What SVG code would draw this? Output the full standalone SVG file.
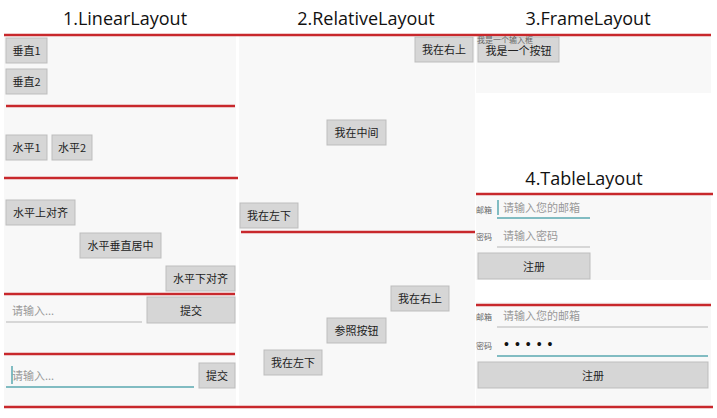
<svg xmlns="http://www.w3.org/2000/svg" width="717" height="418" viewBox="0 0 717 418">
<style>
.t{font-family:"Open Sans","Noto Sans",sans-serif;font-size:18px;fill:#111;text-anchor:middle}
.b{fill:#d6d6d6;stroke:#bdbdbd;stroke-width:1}
.bt{font-family:"Noto Sans CJK SC",sans-serif;font-size:11px;fill:#222;text-anchor:middle}
.h{font-family:"Noto Sans CJK SC",sans-serif;font-size:11px;fill:#999}
.s{font-family:"Noto Sans CJK SC",sans-serif;font-size:8px;fill:#666}
.r{stroke:#c8282c;stroke-width:2.5}
.e{stroke:#ccc;stroke-width:1.5}
.f{stroke:#5aa8b0;stroke-width:1.5}
</style>
<rect width="717" height="418" fill="#fff"/>
<rect x="4" y="35" width="232" height="372" fill="#f8f8f8"/>
<rect x="239" y="35" width="236" height="372" fill="#f8f8f8"/>
<rect x="476" y="35" width="235" height="58" fill="#f8f8f8"/>
<rect x="476" y="193" width="235" height="214" fill="#f8f8f8"/>
<rect x="476" y="280" width="235" height="22" fill="#fff"/>
<g id="titles">
<text class="t" x="125" y="25">1.LinearLayout</text>
<text class="t" x="366" y="25">2.RelativeLayout</text>
<text class="t" x="588" y="25">3.FrameLayout</text>
<text class="t" x="584" y="185">4.TableLayout</text>
</g>
<g id="dividers">
<line class="r" x1="4" y1="35" x2="711" y2="35"/>
<line class="r" x1="6" y1="106" x2="235" y2="106"/>
<line class="r" x1="4" y1="178" x2="238" y2="178"/>
<line class="r" x1="4" y1="294" x2="235" y2="294"/>
<line class="r" x1="4" y1="354" x2="235" y2="354"/>
<line class="r" x1="4" y1="407" x2="713" y2="407"/>
<line class="r" x1="241" y1="232" x2="475" y2="232"/>
<line class="r" x1="476" y1="194" x2="713" y2="194"/>
<line class="r" x1="476" y1="305" x2="711" y2="305"/>
</g>
<g id="linear">
<rect class="b" x="6" y="38" width="41" height="25"/><text class="bt" x="26.5" y="55">垂直1</text>
<rect class="b" x="6" y="69" width="41" height="25"/><text class="bt" x="26.5" y="86">垂直2</text>
<rect class="b" x="6" y="135" width="41" height="25"/><text class="bt" x="26.5" y="152">水平1</text>
<rect class="b" x="52" y="135" width="40" height="25"/><text class="bt" x="72" y="152">水平2</text>
<rect class="b" x="6" y="200" width="69" height="25"/><text class="bt" x="40.5" y="217">水平上对齐</text>
<rect class="b" x="80" y="233" width="81" height="25"/><text class="bt" x="120.5" y="250">水平垂直居中</text>
<rect class="b" x="166" y="266" width="69" height="25"/><text class="bt" x="200.5" y="283">水平下对齐</text>
<text class="h" x="12" y="315">请输入...</text><line class="e" x1="6" y1="322" x2="142" y2="322"/>
<rect class="b" x="147" y="297" width="88" height="26"/><text class="bt" x="191" y="315">提交</text>
<text class="h" x="12" y="380">请输入...</text><line class="f" x1="6" y1="387" x2="194" y2="387"/><line class="f" x1="12" y1="366" x2="12" y2="384"/>
<rect class="b" x="199" y="363" width="36" height="25"/><text class="bt" x="217" y="380">提交</text>
</g>
<g id="relative">
<rect class="b" x="415" y="37" width="58" height="25"/><text class="bt" x="444" y="54">我在右上</text>
<rect class="b" x="327" y="120" width="59" height="25"/><text class="bt" x="356.5" y="137">我在中间</text>
<rect class="b" x="240" y="203" width="58" height="25"/><text class="bt" x="269" y="220">我在左下</text>
<rect class="b" x="391" y="286" width="58" height="25"/><text class="bt" x="420" y="303">我在右上</text>
<rect class="b" x="327" y="318" width="59" height="25"/><text class="bt" x="356.5" y="335">参照按钮</text>
<rect class="b" x="264" y="350" width="58" height="25"/><text class="bt" x="293" y="367">我在左下</text>
</g>
<g id="frame">
<rect class="b" x="478" y="37" width="81" height="25"/><text class="bt" x="518.5" y="55">我是一个按钮</text>
<text class="s" x="477" y="43">我是一个输入框</text>
</g>
<g id="table">
<text class="s" x="476" y="213">邮箱</text><text class="h" x="503" y="212">请输入您的邮箱</text><line class="f" x1="497" y1="218" x2="590" y2="218"/><line class="f" x1="498" y1="200" x2="498" y2="215"/>
<text class="s" x="476" y="240">密码</text><text class="h" x="503" y="240">请输入密码</text><line class="e" x1="497" y1="247" x2="590" y2="247"/>
<rect class="b" x="478" y="253" width="112" height="26"/><text class="bt" x="534" y="271">注册</text>
<text class="s" x="476" y="320">邮箱</text><text class="h" x="503" y="320">请输入您的邮箱</text><line class="e" x1="497" y1="327" x2="708" y2="327"/>
<text class="s" x="476" y="349">密码</text><text x="504" y="349" font-family="Liberation Sans,sans-serif" font-size="14" fill="#111" letter-spacing="6">•••••</text><line class="f" x1="497" y1="356" x2="708" y2="356"/>
<rect class="b" x="478" y="362" width="230" height="26"/><text class="bt" x="593" y="380">注册</text>
</g>
</svg>
